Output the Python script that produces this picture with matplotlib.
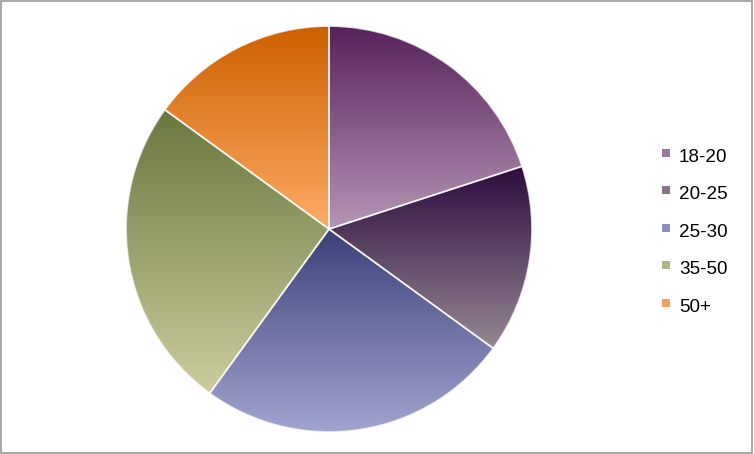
import numpy as np
import matplotlib
matplotlib.use("Agg")
import matplotlib.pyplot as plt
from matplotlib.colors import LinearSegmentedColormap
from matplotlib.patches import Rectangle

labels = ['18-20', '20-25', '25-30', '35-50', '50+']
values = [20, 15, 25, 25, 15]
top_colors = ['#58215a', '#2c0c3e', '#3d4078', '#6a7640', '#cc6000']
bottom_colors = ['#b596b6', '#958793', '#a2a4d0', '#cccd9c', '#ffab64']
legend_colors = ['#9a7a9c', '#857586', '#8f90c0', '#b0b488', '#f2a060']

plt.rcParams['font.family'] = ['Liberation Sans', 'DejaVu Sans']

W, H = 754, 454
fig = plt.figure(figsize=(W / 100, H / 100), dpi=100)
fig.patch.set_facecolor('white')
ax = fig.add_axes([0.1671, 0.0485, 0.5385, 0.894])

wedges, _ = ax.pie(values, startangle=90, counterclock=False, radius=1,
                   wedgeprops=dict(facecolor='none', edgecolor=(1, 1, 1, 0.75), linewidth=1.2))

for w, tc, bc in zip(wedges, top_colors, bottom_colors):
    t1, t2 = w.theta1, w.theta2
    ang = np.radians(np.linspace(t1, t2, 200))
    ys = np.concatenate([[0.0], np.sin(ang)])
    ymin, ymax = ys.min(), ys.max()
    cmap = LinearSegmentedColormap.from_list('g', [bc, tc])
    grad = np.linspace(0, 1, 256).reshape(-1, 1)
    im = ax.imshow(grad, cmap=cmap, extent=(-1, 1, ymin, ymax), origin='lower',
                   aspect='auto', interpolation='bilinear', zorder=1)
    im.set_clip_path(w)
    w.set_zorder(2)

ax.set_xlim(-1.0, 1.0)
ax.set_ylim(-1.0, 1.0)
ax.set_aspect('equal')
ax.axis('off')

# legend drawn manually (pixel layout)
row0, step = 162.0, 37.4
for i, (lab, c) in enumerate(zip(labels, legend_colors)):
    base = row0 + step * i
    fig.add_artist(Rectangle((662 / W, 1 - (base - 5) / H), 8 / W, 8 / H,
                             transform=fig.transFigure, facecolor=c, edgecolor='none'))
    fig.text(679 / W, 1 - base / H, lab, fontsize=13.6, va='baseline', ha='left', color='#000000')

fig.add_artist(Rectangle((0.001, 0.002), 0.997, 0.996, transform=fig.transFigure,
                         fill=False, edgecolor='#9a9a9a', linewidth=1.2))

fig.savefig('out.png', dpi=100)
